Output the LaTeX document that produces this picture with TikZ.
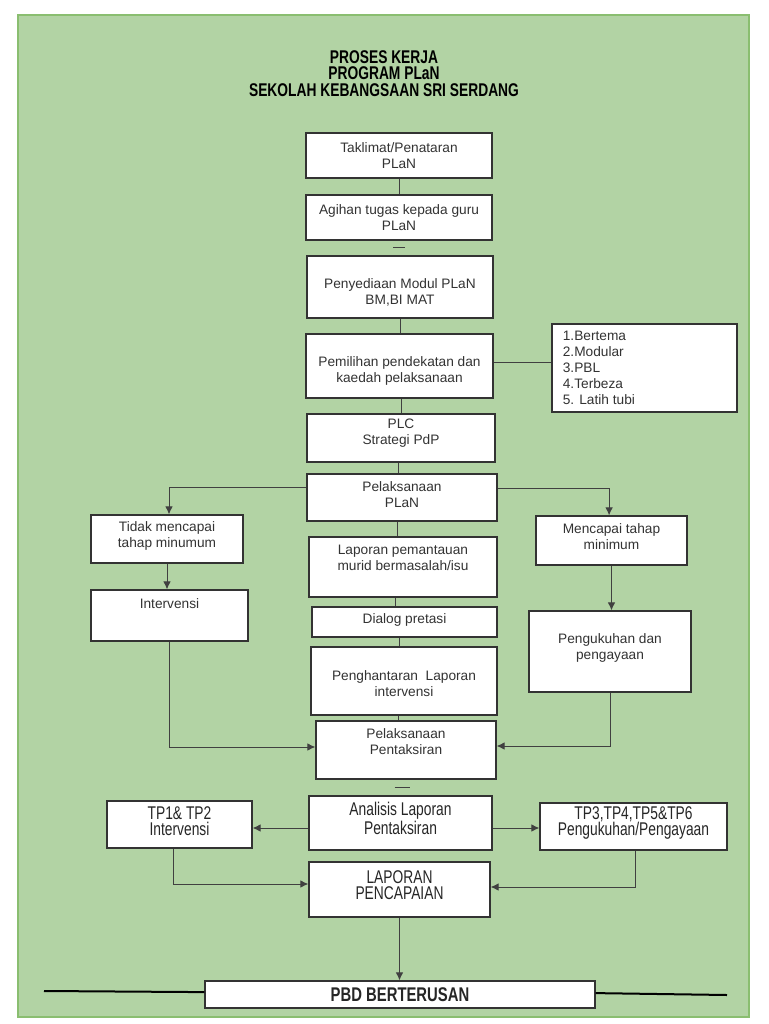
\documentclass[tikz,border=0pt]{standalone}
\usepackage{xcolor}
\usepackage{fontspec}
\setmainfont{Liberation Sans}
\newfontfamily\narrowfont[FakeStretch=0.75]{Liberation Sans}
\usepackage{tikz}
\usetikzlibrary{arrows.meta, positioning, calc}
\definecolor{bggreen}{RGB}{178,211,164}
\definecolor{bgedge}{RGB}{138,190,112}
\tikzset{
    box/.style={
        rectangle, draw=black!80, fill=white,
        line width=0.6pt, inner sep=0pt
    },
    txt/.style={align=center, text=black!80, font=\fontsize{6.85}{8}\selectfont},
    ntxt/.style={align=center, text=black!85, font=\narrowfont\fontsize{9.2}{8}\selectfont},
    judul/.style={align=center, text=black, font=\narrowfont\bfseries\fontsize{9.2}{8.25}\selectfont},
    link/.style={draw=black!75, line width=0.5pt},
    arrow/.style={link, -{Latex[length=4pt,width=3.8pt]}},
    rule/.style={draw=black, line width=1pt}
}
\begin{document}
\begin{tikzpicture}[x=0.5pt, y=-0.5pt]
    \useasboundingbox (0,0) rectangle (768,1024);
    \fill[white] (0,0) rectangle (768,1024);
    \filldraw[fill=bggreen, draw=bgedge, line width=1pt] (18,15) rectangle (749,1017);

    % tajuk
    \node[judul] (tajuk) at (384,73.5) {PROSES KERJA\\PROGRAM PLaN\\SEKOLAH KEBANGSAAN SRI SERDANG};

    % lajur tengah
    \node[box, minimum width=93pt, minimum height=22.5pt, label={[txt]center:{Taklimat/Penataran\\PLaN}}] (taklimat) at (399,155.5) {};
    \node[box, minimum width=93pt, minimum height=22.5pt, label={[txt]center:{Agihan tugas kepada guru\\PLaN}}] (agihan) at (399,217.5) {};
    \node[box, minimum width=93pt, minimum height=31pt, label={[txt, yshift=-2.5pt]center:{Penyediaan Modul PLaN\\BM,BI MAT}}] (modul) at (400,287) {};
    \node[box, minimum width=93.5pt, minimum height=32pt, label={[txt, yshift=-2.5pt]center:{Pemilihan pendekatan dan\\kaedah pelaksanaan}}] (pendekatan) at (399.5,366) {};
    \node[box, minimum width=92.5pt, minimum height=44pt, label={[txt, align=left, anchor=west, xshift=2.2pt]west:{1.Bertema\\2.Modular\\3.PBL\\4.Terbeza\\5. Latih tubi}}] (senarai) at (644.5,368) {};
    \node[box, minimum width=94pt, minimum height=24pt, label={[txt, yshift=2.2pt]center:{PLC\\Strategi PdP}}] (plc) at (401,438) {};
    \node[box, minimum width=95pt, minimum height=23.5pt, label={[txt, yshift=1.7pt]center:{Pelaksanaan\\PLaN}}] (laksana) at (402,497.5) {};
    \node[box, minimum width=94pt, minimum height=30pt, label={[txt, yshift=4.5pt]center:{Laporan pemantauan\\murid bermasalah/isu}}] (pantau) at (403,567) {};
    \node[box, minimum width=92.5pt, minimum height=15pt, label={[txt, yshift=1pt]center:{Dialog pretasi}}] (dialog) at (404.5,622) {};
    \node[box, minimum width=93pt, minimum height=34pt, label={[txt, yshift=-1.5pt]center:{Penghantaran~ Laporan\\intervensi}}] (hantar) at (404,681) {};
    \node[box, minimum width=90pt, minimum height=29pt, label={[txt, yshift=4.2pt]center:{Pelaksanaan\\Pentaksiran}}] (taksir) at (406,750) {};

    % cabang kiri dan kanan
    \node[box, minimum width=76pt, minimum height=24pt, label={[txt, yshift=1.5pt]center:{Tidak mencapai\\tahap minumum}}] (tidak) at (167,539) {};
    \node[box, minimum width=78.5pt, minimum height=25.5pt, label={[txt, yshift=6.2pt]center:{Intervensi}}] (intervensi) at (169.5,615.5) {};
    \node[box, minimum width=75.5pt, minimum height=24.5pt, label={[txt, yshift=2pt]center:{Mencapai tahap\\minimum}}] (capai) at (611.5,540.5) {};
    \node[box, minimum width=81pt, minimum height=40.5pt, label={[txt, yshift=1.7pt]center:{Pengukuhan dan\\pengayaan}}] (kukuh) at (610,651.5) {};

    % bahagian bawah
    \node[box, minimum width=91.5pt, minimum height=27pt, label={[ntxt, yshift=2.2pt]center:{Analisis Laporan\\Pentaksiran}}] (analisis) at (400.5,823) {};
    \node[box, minimum width=72.5pt, minimum height=23.5pt, label={[ntxt, yshift=1.7pt]center:{TP1\& TP2\\Intervensi}}] (tpA) at (179.5,824.5) {};
    \node[box, minimum width=93.5pt, minimum height=23.5pt, label={[ntxt, yshift=1.7pt]center:{TP3,TP4,TP5\&TP6\\Pengukuhan/Pengayaan}}] (tpB) at (633.5,826.5) {};
    \node[box, minimum width=90.5pt, minimum height=27.5pt, label={[ntxt, yshift=2.2pt]center:{LAPORAN\\PENCAPAIAN}}] (laporan) at (399.5,889.5) {};
    \node[box, minimum width=195pt, minimum height=13.5pt, label={[ntxt, font=\narrowfont\bfseries\fontsize{9.9}{10}\selectfont]center:{PBD BERTERUSAN}}] (pbd) at (400,994.5) {};

    % penyambung
    \draw[link] (taklimat.south) -- (agihan.north);
    \coordinate (sengkangA) at (399,247);
    \draw[link] ([xshift=-3pt]sengkangA) -- ([xshift=3pt]sengkangA);
    \draw[link] (modul.south) -- (modul.south |- pendekatan.north);
    \coordinate (pKanan) at ([yshift=2pt]pendekatan.east);
    \draw[link] (pKanan) -- (pKanan -| senarai.west);
    \draw[link] ([xshift=0.8pt]pendekatan.south) -- ([xshift=0.8pt]pendekatan.south |- plc.north);
    \draw[link] ([xshift=-1.5pt]plc.south) -- ([xshift=-1.5pt]plc.south |- laksana.north);
    \draw[arrow] ([yshift=5.25pt]laksana.west) -| ([xshift=1pt]tidak.north);
    \draw[arrow] ([yshift=4.75pt]laksana.east) -| ([xshift=-1.2pt]capai.north);
    \draw[arrow] (tidak.south) -- (tidak.south |- intervensi.north);
    \draw[arrow] (capai.south) -- (capai.south |- kukuh.north);
    \draw[link] ([xshift=-2.5pt]laksana.south) -- ([xshift=-2.5pt]laksana.south |- pantau.north);
    \draw[link] ([xshift=-4pt]pantau.south) -- ([xshift=-4pt]pantau.south |- dialog.north);
    \draw[link] ([xshift=-2.7pt]dialog.south) -- ([xshift=-2.7pt]dialog.south |- hantar.north);
    \draw[link] ([xshift=-3pt]hantar.south) -- ([xshift=-3pt]hantar.south |- taksir.north);
    \draw[arrow] (intervensi.south) |- ([yshift=1.5pt]taksir.west);
    \draw[arrow] (kukuh.south) |- ([yshift=2pt]taksir.east);
    \coordinate (sengkangB) at (402,787);
    \draw[link] ([xshift=-3.75pt]sengkangB) -- ([xshift=3.75pt]sengkangB);
    \coordinate (aKiri) at ([yshift=-2.5pt]analisis.west);
    \coordinate (aKanan) at ([yshift=-2.5pt]analisis.east);
    \draw[arrow] (aKiri) -- (aKiri -| tpA.east);
    \draw[arrow] (aKanan) -- (aKanan -| tpB.west);
    \draw[arrow] ([xshift=-3.2pt]tpA.south) |- ([yshift=2.75pt]laporan.west);
    \draw[arrow] ([xshift=1.2pt]tpB.south) |- ([yshift=1.25pt]laporan.east);
    \draw[arrow] (laporan.south) -- (laporan.south |- pbd.north);
    \coordinate (garisKiri) at (44,991);
    \coordinate (garisKanan) at (727,995);
    \draw[rule] (garisKiri) -- ([yshift=1.2pt]pbd.west);
    \draw[rule] ([yshift=0.7pt]pbd.east) -- (garisKanan);
\end{tikzpicture}
\end{document}
